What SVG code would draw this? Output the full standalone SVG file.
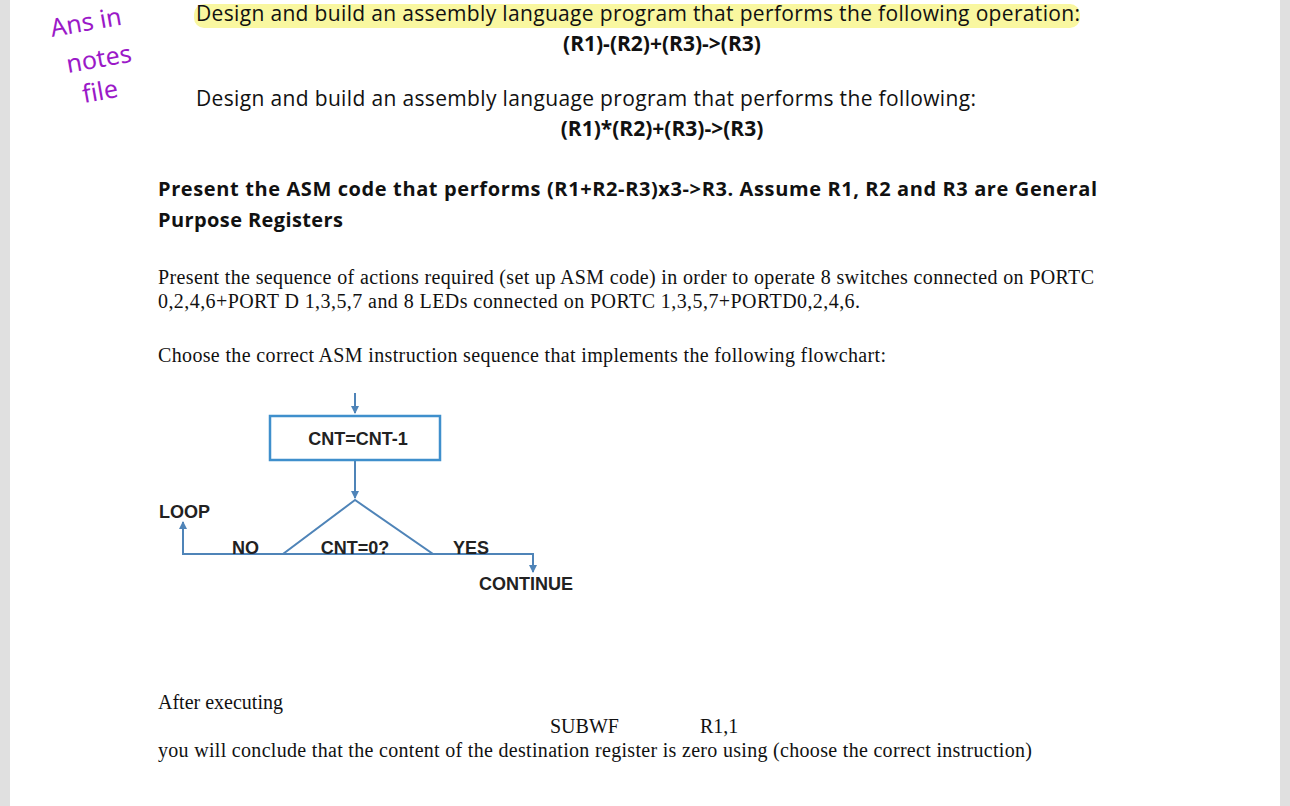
<svg xmlns="http://www.w3.org/2000/svg" width="1290" height="806" viewBox="0 0 1290 806">
<style>
.c{font-family:"Open Sans","Liberation Sans",sans-serif;fill:#111}
.t{font-family:"Liberation Serif",serif;fill:#111;font-size:20px}
.f{font-family:"Liberation Sans",Arial,sans-serif;font-weight:bold;fill:#222;font-size:18px}
.h{font-family:"Noto Sans",sans-serif;fill:#9b19c8;font-size:25px}
.ln{stroke:#4f84b8;stroke-width:2;fill:none}
</style>
<defs><marker id="a" markerWidth="8" markerHeight="8" refX="7" refY="4" orient="auto" markerUnits="userSpaceOnUse" viewBox="0 0 8 8"><path d="M0,0 L8,4 L0,8 Z" fill="#4f84b8"/></marker></defs>
<rect x="0" y="0" width="1290" height="806" fill="#fff"/>
<rect x="0" y="0" width="10" height="806" fill="#e0e0e0"/>
<rect x="1280" y="0" width="10" height="806" fill="#e0e0e0"/>
<text class="h" x="52" y="37" transform="rotate(-10 52 37)">Ans in</text>
<text class="h" x="68" y="73" transform="rotate(-10 68 73)">notes</text>
<text class="h" x="84" y="103" transform="rotate(-10 84 103)">file</text>
<rect x="194" y="4" width="886" height="24" fill="#f9f7a0" rx="10"/>
<text class="c" x="196" y="21" font-size="21" textLength="884">Design and build an assembly language program that performs the following operation:</text>
<text class="c" x="662" y="51" font-size="21" font-weight="bold" text-anchor="middle">(R1)-(R2)+(R3)-&gt;(R3)</text>
<text class="c" x="196" y="106" font-size="21" textLength="780">Design and build an assembly language program that performs the following:</text>
<text class="c" x="662" y="136" font-size="21" font-weight="bold" text-anchor="middle">(R1)*(R2)+(R3)-&gt;(R3)</text>
<text class="c" x="158" y="196" font-size="20" font-weight="bold" textLength="939">Present the ASM code that performs (R1+R2-R3)x3-&gt;R3. Assume R1, R2 and R3 are General</text>
<text class="c" x="158" y="227" font-size="20" font-weight="bold" textLength="185">Purpose Registers</text>
<text class="t" x="158" y="284" textLength="936">Present the sequence of actions required (set up ASM code) in order to operate 8 switches connected on PORTC</text>
<text class="t" x="158" y="308" textLength="702">0,2,4,6+PORT D 1,3,5,7 and 8 LEDs connected on PORTC 1,3,5,7+PORTD0,2,4,6.</text>
<text class="t" x="158" y="362" textLength="728">Choose the correct ASM instruction sequence that implements the following flowchart:</text>
<g id="connectors">
<line class="ln" x1="355" y1="393" x2="355" y2="413" marker-end="url(#a)"/>
<line class="ln" x1="355" y1="461" x2="355" y2="498" marker-end="url(#a)"/>
<polyline class="ln" points="283,554 183,554 183,522" marker-end="url(#a)"/>
<polyline class="ln" points="433,554 533,554 533,572" marker-end="url(#a)"/>
</g>
<g id="box"><rect x="270" y="416" width="170" height="44" fill="#fff" stroke="#3f8fcc" stroke-width="2.5"/>
<text class="f" x="358" y="445" text-anchor="middle">CNT=CNT-1</text></g>
<g id="decision"><polygon class="ln" points="355,500 283,554 433,554"/>
<text class="f" x="355" y="554" text-anchor="middle">CNT=0?</text></g>
<g id="labels">
<text class="f" x="159" y="518">LOOP</text>
<text class="f" x="232" y="554">NO</text>
<text class="f" x="453" y="554">YES</text>
<text class="f" x="479" y="590">CONTINUE</text>
</g>
<text class="t" x="158" y="709">After executing</text>
<text class="t" x="550" y="733">SUBWF</text>
<text class="t" x="700" y="733">R1,1</text>
<text class="t" x="158" y="757" textLength="874">you will conclude that the content of the destination register is zero using (choose the correct instruction)</text>
</svg>
